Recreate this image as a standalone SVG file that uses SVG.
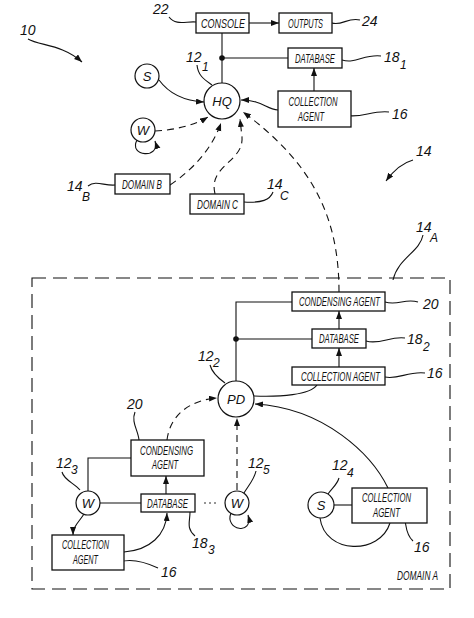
<svg xmlns="http://www.w3.org/2000/svg" width="474" height="618" viewBox="0 0 474 618">
<defs>
<marker id="ah" markerUnits="userSpaceOnUse" markerWidth="9" markerHeight="7" refX="8" refY="3" orient="auto">
<path d="M0,0 L8,3 L0,6 z" fill="#111"/>
</marker>
<style>
.b{fill:#fff;stroke:#111;stroke-width:1.3}
.c{fill:#fff;stroke:#111;stroke-width:1.2}
.l{fill:none;stroke:#111;stroke-width:1.1}
.d{fill:none;stroke:#111;stroke-width:1.1;stroke-dasharray:7 5}
.a{marker-end:url(#ah)}
.t{font-family:"Liberation Sans",Arial,sans-serif;font-style:italic;font-size:12px;fill:#111;text-anchor:middle}
.n{font-family:"Liberation Sans",Arial,sans-serif;font-style:italic;font-size:14px;fill:#111}
.s{font-family:"Liberation Sans",Arial,sans-serif;font-style:italic;font-size:12px;fill:#111}
.ct{font-family:"Liberation Sans",Arial,sans-serif;font-style:italic;font-size:13px;fill:#111;text-anchor:middle}
</style>
</defs>

<!-- domain A boundary -->
<rect x="32" y="278" width="418" height="311" fill="none" stroke="#111" stroke-width="1.1" stroke-dasharray="14 7"/>

<g id="connectors">
<path class="l a" d="M249,23 L279,23"/>
<path class="l" d="M222,33 L222,83"/>
<path class="l" d="M222,58 L288,58"/>
<circle cx="222" cy="58" r="2.8" fill="#111"/>
<path class="l a" d="M314,91 L314,68"/>
<path class="l a" d="M278,110 C266,109 262,100 241,100"/>
<path class="l a" d="M159,80 C170,95 186,101 204,102"/>
<path class="d a" d="M155,131 C175,130 195,125 208,117"/>
<path class="l a" d="M137,140 C128,157 161,159 155,141"/>
<path class="d a" d="M170,185 C195,168 212,148 221,123"/>
<path class="d a" d="M215,194 C208,165 244,162 242,137 L240,119"/>
<path class="d a" d="M339,292 C339,220 315,165 243,112"/>
<path class="l" d="M292,302 L236,302 L236,381"/>
<path class="l" d="M312,339 L236,339"/>
<circle cx="236" cy="339" r="2.8" fill="#111"/>
<path class="l a" d="M339,367 L339,348"/>
<path class="l a" d="M339,329 L339,311"/>
<path class="l" d="M317,385 C310,395 280,397 254,396"/>
<path class="l a" d="M388,488 C372,455 325,408 255,404"/>
<path class="d a" d="M167,440 C170,415 190,400 217,398"/>
<path class="d a" d="M237,490 L237,418"/>
<path class="l a" d="M231,513 C224,530 254,536 248,515"/>
<path class="l" d="M88,491 L88,458 L131,458"/>
<path class="l" d="M100,503 L141,503"/>
<path class="l a" d="M166,494 L166,476"/>
<path class="l a" d="M84,514 C79,522 73,526 73,535"/>
<path class="l a" d="M124,552 C150,550 166,535 167,513"/>
<path class="l" d="M334,505 L352,505"/>
<path class="l" d="M320,518 C325,555 380,555 390,523"/>
</g>

<g id="labels">
<text class="n" x="20" y="35">10</text>
<path class="l a" d="M28,39 C40,46 62,44 82,62"/>
<text class="n" x="153" y="14">22</text>
<path class="l" d="M169,17 C176,26 186,21 196,22"/>
<text class="n" x="362" y="26">24</text>
<path class="l" d="M332,23 C342,26 348,17 360,20"/>
<text class="n" x="384" y="62">18</text><text class="s" x="400" y="69">1</text>
<path class="l" d="M342,60 C356,64 364,54 381,56"/>
<text class="n" x="392" y="119">16</text>
<path class="l" d="M345,115 C360,119 372,110 389,112"/>
<text class="n" x="186" y="62">12</text><text class="s" x="202" y="71">1</text>
<path class="l" d="M197,65 C198,76 205,80 212,85"/>
<text class="n" x="67" y="191">14</text><text class="s" x="82" y="201">B</text>
<path class="l" d="M88,186 C96,180 104,186 115,185"/>
<text class="n" x="267" y="189">14</text><text class="s" x="280" y="200">C</text>
<path class="l" d="M273,192 C270,200 262,203 244,202"/>
<text class="n" x="416" y="156">14</text>
<path class="l a" d="M413,160 C402,163 394,170 386,181"/>
<text class="n" x="416" y="232">14</text><text class="s" x="430" y="242">A</text>
<path class="l" d="M423,235 C420,252 398,258 393,280"/>
<text class="n" x="423" y="309">20</text>
<path class="l" d="M385,302 C398,306 405,298 418,302"/>
<text class="n" x="407" y="344">18</text><text class="s" x="423" y="351">2</text>
<path class="l" d="M366,341 C380,345 390,336 405,338"/>
<text class="n" x="427" y="378">16</text>
<path class="l" d="M385,377 C398,380 408,371 425,373"/>
<text class="n" x="198" y="361">12</text><text class="s" x="213" y="367">2</text>
<path class="l" d="M210,365 C212,373 218,378 225,383"/>
<text class="n" x="127" y="409">20</text>
<path class="l" d="M135,412 C131,422 138,430 139,440"/>
<text class="n" x="56" y="468">12</text><text class="s" x="71" y="474">3</text>
<path class="l" d="M62,472 C64,480 74,483 80,490"/>
<text class="n" x="248" y="468">12</text><text class="s" x="263" y="474">5</text>
<path class="l" d="M256,471 C254,480 248,486 244,493"/>
<text class="n" x="332" y="470">12</text><text class="s" x="347" y="477">4</text>
<path class="l" d="M339,478 C337,485 332,488 328,494"/>
<text class="n" x="414" y="552">16</text>
<path class="l" d="M402,515 C408,520 403,532 413,541"/>
<text class="n" x="192" y="548">18</text><text class="s" x="208" y="554">3</text>
<path class="l" d="M190,512 C190,522 186,528 195,536"/>
<text class="n" x="161" y="577">16</text>
<path class="l" d="M120,562 C132,558 145,562 158,568"/>
<text class="t" x="417.5" y="580" textLength="41" lengthAdjust="spacingAndGlyphs">DOMAIN A</text>
<circle cx="205" cy="503" r="0.8" fill="#111"/><circle cx="210" cy="503" r="0.8" fill="#111"/><circle cx="215" cy="503" r="0.8" fill="#111"/>
</g>

<g id="console"><rect class="b" x="196" y="13" width="53" height="20"/><text class="t" x="223" y="27.5" textLength="44" lengthAdjust="spacingAndGlyphs">CONSOLE</text></g>
<g id="outputs"><rect class="b" x="279" y="13" width="53" height="20"/><text class="t" x="305.5" y="27.5" textLength="35" lengthAdjust="spacingAndGlyphs">OUTPUTS</text></g>
<g id="database1"><rect class="b" x="288" y="48" width="54" height="20"/><text class="t" x="315" y="62.5" textLength="40" lengthAdjust="spacingAndGlyphs">DATABASE</text></g>
<g id="collection1"><rect class="b" x="278" y="91" width="73" height="36"/><text class="t" x="313" y="106" textLength="49" lengthAdjust="spacingAndGlyphs">COLLECTION</text><text class="t" x="311" y="121" textLength="26" lengthAdjust="spacingAndGlyphs">AGENT</text></g>
<g id="hq"><circle class="c" cx="222" cy="101" r="18"/><text class="ct" x="222" y="106">HQ</text></g>
<g id="s1"><circle class="c" cx="147" cy="76" r="12"/><text class="ct" x="147" y="81">S</text></g>
<g id="w1"><circle class="c" cx="143" cy="130" r="12"/><text class="ct" x="143" y="135">W</text></g>
<g id="domainB"><rect class="b" x="115" y="174" width="55" height="20"/><text class="t" x="142" y="188.5" textLength="40" lengthAdjust="spacingAndGlyphs">DOMAIN B</text></g>
<g id="domainC"><rect class="b" x="190" y="194" width="54" height="20"/><text class="t" x="217.5" y="208.5" textLength="41" lengthAdjust="spacingAndGlyphs">DOMAIN C</text></g>

<g id="condensing2"><rect class="b" x="292" y="292" width="93" height="19"/><text class="t" x="339.5" y="306" textLength="81" lengthAdjust="spacingAndGlyphs">CONDENSING AGENT</text></g>
<g id="database2"><rect class="b" x="312" y="329" width="54" height="19"/><text class="t" x="339" y="343" textLength="40" lengthAdjust="spacingAndGlyphs">DATABASE</text></g>
<g id="collection2"><rect class="b" x="292" y="367" width="93" height="18"/><text class="t" x="340.5" y="380.5" textLength="79" lengthAdjust="spacingAndGlyphs">COLLECTION AGENT</text></g>
<g id="pd"><circle class="c" cx="236" cy="399" r="18"/><text class="ct" x="236" y="404">PD</text></g>
<g id="condensing3"><rect class="b" x="131" y="440" width="73" height="36"/><text class="t" x="166.5" y="455" textLength="53" lengthAdjust="spacingAndGlyphs">CONDENSING</text><text class="t" x="165" y="469" textLength="26" lengthAdjust="spacingAndGlyphs">AGENT</text></g>
<g id="w3"><circle class="c" cx="88" cy="503" r="12"/><text class="ct" x="88" y="508">W</text></g>
<g id="database3"><rect class="b" x="141" y="494" width="54" height="18"/><text class="t" x="167.5" y="507.5" textLength="41" lengthAdjust="spacingAndGlyphs">DATABASE</text></g>
<g id="collection3"><rect class="b" x="52" y="535" width="72" height="35"/><text class="t" x="85.5" y="549" textLength="47" lengthAdjust="spacingAndGlyphs">COLLECTION</text><text class="t" x="85.5" y="564" textLength="25" lengthAdjust="spacingAndGlyphs">AGENT</text></g>
<g id="w5"><circle class="c" cx="237" cy="503" r="12"/><text class="ct" x="237" y="508">W</text></g>
<g id="s4"><circle class="c" cx="321" cy="505" r="13"/><text class="ct" x="321" y="510">S</text></g>
<g id="collection4"><rect class="b" x="352" y="488" width="75" height="35"/><text class="t" x="386.5" y="502" textLength="49" lengthAdjust="spacingAndGlyphs">COLLECTION</text><text class="t" x="386.5" y="517" textLength="27" lengthAdjust="spacingAndGlyphs">AGENT</text></g>
</svg>
